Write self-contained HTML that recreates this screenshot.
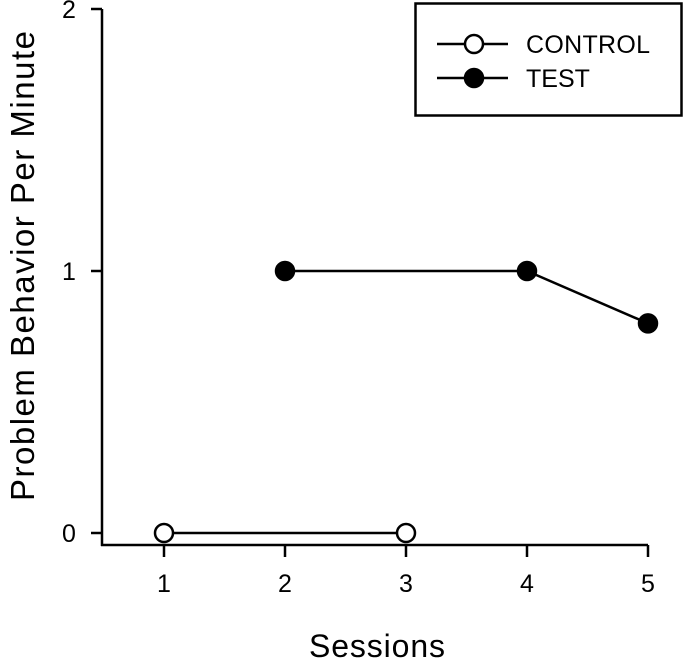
<!DOCTYPE html>
<html><head><meta charset="utf-8"><style>
html,body{margin:0;padding:0;background:#fff;}
svg{display:block;font-family:"Liberation Sans",Arial,sans-serif;}
</style></head><body>
<svg id="chart" width="685" height="660" viewBox="0 0 685 660">
<g id="axes"></g>
<g id="series"></g>
<text x="377" y="657" text-anchor="middle" font-size="32" textLength="136">Sessions</text>
<text transform="translate(34,266) rotate(-90)" text-anchor="middle" font-size="33" textLength="470">Problem Behavior Per Minute</text>
<g>
<rect x="415.5" y="3.5" width="266" height="112" fill="#fff" stroke="#000" stroke-width="2.5"/>
<g>
<line x1="437" y1="44" x2="508" y2="44" stroke="#000" stroke-width="2.5"/>
<circle cx="474" cy="44" r="9" fill="#fff" stroke="#000" stroke-width="2.5"/>
<text x="526" y="53" font-size="25" textLength="124">CONTROL</text>
</g>
<g>
<line x1="437" y1="78" x2="508" y2="78" stroke="#000" stroke-width="2.5"/>
<circle cx="474" cy="78" r="9" fill="#000" stroke="#000" stroke-width="2.5"/>
<text x="526" y="87" font-size="25">TEST</text>
</g>
</g>
</svg>
<script>
const xTicks = [1, 2, 3, 4, 5];
const yTicks = [0, 1, 2];
const controlX = [1, 3];
const controlY = [0, 0];
const testX = [2, 4, 5];
const testY = [1, 1, 0.8];

const NS = "http://www.w3.org/2000/svg";
function xs(v){ return 164 + (v - 1) * 121; }
function ys(v){ return 533 - v * 262; }
function mk(tag, attrs, parent){
  const e = document.createElementNS(NS, tag);
  for (const k in attrs) e.setAttribute(k, attrs[k]);
  parent.appendChild(e);
  return e;
}
const axes = document.getElementById('axes');
const series = document.getElementById('series');
let yAx = mk('line', {x1:102, y1:ys(2), x2:102, y2:546, stroke:'#000', 'stroke-width':2.5}, axes);


let xAx = mk('line', {x1:101, y1:545, x2:xs(5), y2:545, stroke:'#000', 'stroke-width':2.5}, axes);


yTicks.forEach(t => {
  const l = mk('line', {x1:91, y1:ys(t), x2:102, y2:ys(t), stroke:'#000', 'stroke-width':2.5}, axes);
  
  
  const tx = mk('text', {x:69, y:ys(t)+9, 'text-anchor':'middle', 'font-size':25}, axes);
  tx.textContent = t;
  
  
});
xTicks.forEach(t => {
  const l = mk('line', {x1:xs(t), y1:545, x2:xs(t), y2:557, stroke:'#000', 'stroke-width':2.5}, axes);
  
  
  const tx = mk('text', {x:xs(t), y:592, 'text-anchor':'middle', 'font-size':25}, axes);
  tx.textContent = t;
  
  
});
function drawSeries(X, Y, fill, name){
  const pts = X.map((x,i) => xs(x) + ',' + ys(Y[i])).join(' ');
  const pl = mk('polyline', {points:pts, fill:'none', stroke:'#000', 'stroke-width':2.5}, series);
  
  
  X.forEach((x,i) => {
    const c = mk('circle', {cx:xs(x), cy:ys(Y[i]), r:9, fill:fill, stroke:'#000', 'stroke-width':2.5}, series);
    
    
  });
}
drawSeries(controlX, controlY, '#fff', 'control');
drawSeries(testX, testY, '#000', 'test');
</script>
</body></html>
